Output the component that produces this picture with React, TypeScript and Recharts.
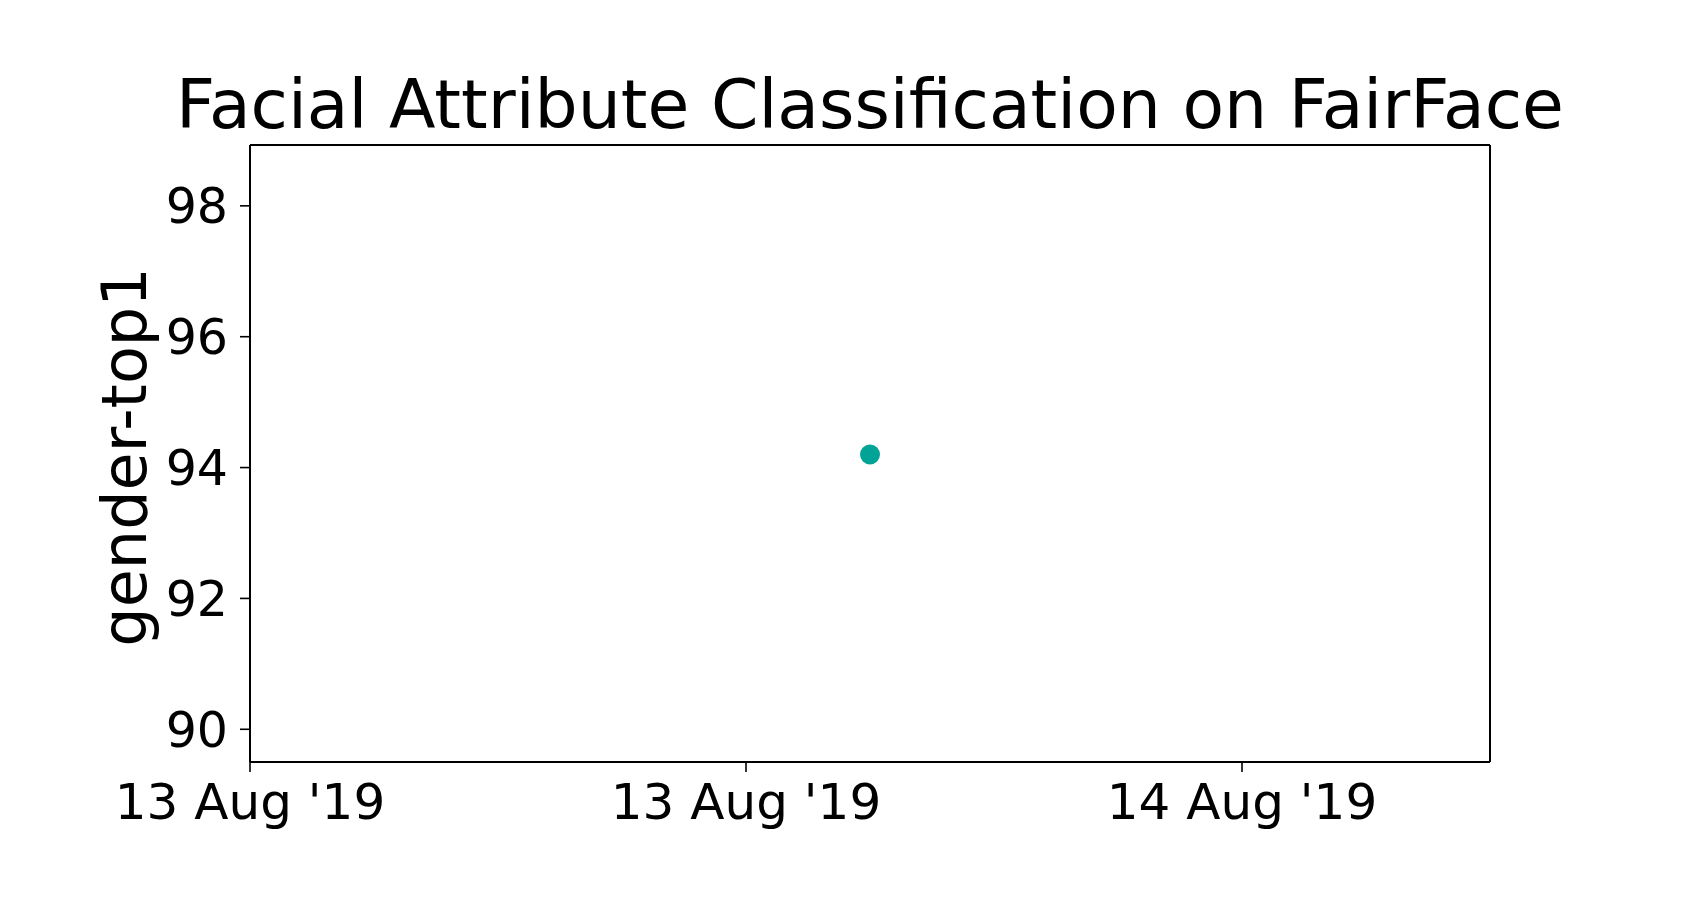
import React from 'react';
import { ScatterChart, Scatter, XAxis, YAxis, ReferenceLine } from 'recharts';

// x is measured in "tick units" (one unit per date tick)
const tickPositions = [0, 1, 2];
const tickLabels = ["13 Aug '19", "13 Aug '19", "14 Aug '19"];
const yTicks = [90, 92, 94, 96, 98];
const pointX = [1.25];
const pointY = [94.2];

const X_DOMAIN: [number, number] = [0, 2.5];
const Y_DOMAIN: [number, number] = [89.5, 98.93];

const TITLE = 'Facial Attribute Classification on FairFace';
const Y_LABEL = 'gender-top1';
const FONT = 'DejaVu Sans, sans-serif';
const DOT_COLOR = '#00a396';

const data = pointX.map((x, i) => ({ x, y: pointY[i] }));

const Dot = (props: any) => <circle cx={props.cx} cy={props.cy} r={10} fill={DOT_COLOR} />;

const App: React.FC = () => {
  const xTickStyle = { fontSize: 50, fill: '#000', fontFamily: FONT };
  const yTickStyle = { fontSize: 49, fill: '#000', fontFamily: FONT };
  return (
    <div style={{ position: 'absolute', left: 0, top: 0, width: 1700, height: 900, background: '#fff' }}>
      <ScatterChart width={1700} height={900} margin={{ top: 145, right: 210, bottom: 78, left: 150 }}>
        <XAxis
          xAxisId="b"
          type="number"
          dataKey="x"
          domain={X_DOMAIN}
          ticks={tickPositions}
          tickFormatter={(v: number) => tickLabels[tickPositions.indexOf(v)] ?? ''}
          allowDataOverflow
          height={60}
          stroke="#000"
          axisLine={{ stroke: '#000', strokeWidth: 2 }}
          tickLine={{ stroke: '#000', strokeWidth: 1.6 }}
          tickSize={10}
          tickMargin={11}
          tick={xTickStyle}
          interval={0}
        />
        <YAxis
          yAxisId="l"
          type="number"
          dataKey="y"
          domain={Y_DOMAIN}
          ticks={yTicks}
          allowDataOverflow
          width={100}
          axisLine={{ stroke: '#000', strokeWidth: 2 }}
          tickLine={{ stroke: '#000', strokeWidth: 1.6 }}
          tickSize={10}
          tickMargin={12}
          tick={yTickStyle}
          interval={0}
        />
        {/* top and right spines */}
        <ReferenceLine xAxisId="b" yAxisId="l" y={Y_DOMAIN[1]} stroke="#000" strokeWidth={2} ifOverflow="extendDomain" />
        <ReferenceLine xAxisId="b" yAxisId="l" x={X_DOMAIN[1]} stroke="#000" strokeWidth={2} ifOverflow="extendDomain" />
        <Scatter data={data} xAxisId="b" yAxisId="l" shape={Dot} isAnimationActive={false} />
      </ScatterChart>
      <svg width={1700} height={900} style={{ position: 'absolute', left: 0, top: 0, pointerEvents: 'none' }}>
        <text x={870} y={128} textAnchor="middle" fontSize={68} fontFamily={FONT} fill="#000">
          {TITLE}
        </text>
        <text x={146} y={457} textAnchor="middle" fontSize={62} fontFamily={FONT} fill="#000" transform="rotate(-90, 146, 457)">
          {Y_LABEL}
        </text>
      </svg>
    </div>
  );
};

export default App;
